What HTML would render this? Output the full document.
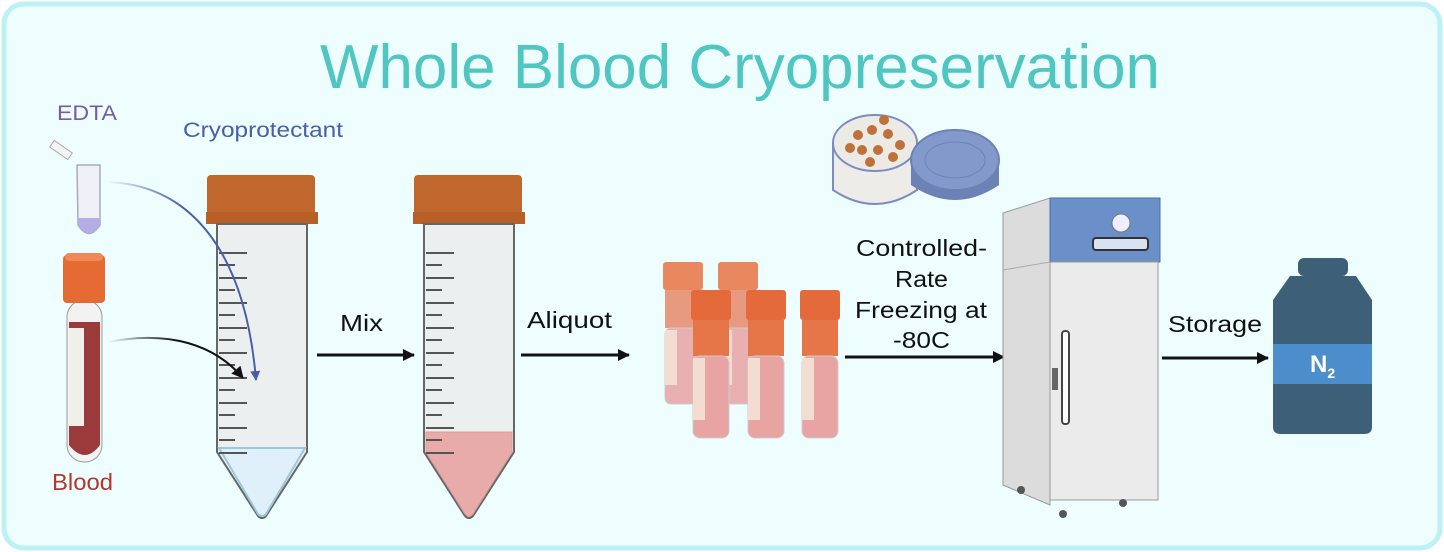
<!DOCTYPE html>
<html><head><meta charset="utf-8"><style>
html,body{margin:0;padding:0;background:#fff;}
svg{display:block;font-family:"Liberation Sans",sans-serif;}
</style></head><body>
<svg width="1444" height="552" viewBox="0 0 1444 552" xmlns="http://www.w3.org/2000/svg">
<defs>
<marker id="ah" markerWidth="12" markerHeight="12" refX="11" refY="6" orient="auto" markerUnits="userSpaceOnUse"><path d="M0,0 L12,6 L0,12 z" fill="#111"/></marker>
<marker id="ahb" markerWidth="10" markerHeight="10" refX="9" refY="5" orient="auto" markerUnits="userSpaceOnUse"><path d="M0,0 L10,5 L0,10 z" fill="#4a5ea8"/></marker>
<linearGradient id="gb" x1="0" x2="1"><stop offset="0" stop-color="#4a5ea8" stop-opacity="0"/><stop offset="0.5" stop-color="#4a5ea8"/></linearGradient>
<linearGradient id="gk" x1="0" x2="1"><stop offset="0" stop-color="#111" stop-opacity="0"/><stop offset="0.5" stop-color="#111"/></linearGradient>
</defs>
<rect x="4" y="4" width="1436" height="544" rx="20" fill="#eefefe" stroke="#bdf1f6" stroke-width="5"/>
<text x="320" y="88" font-size="62" fill="#4fc6c2" textLength="840" lengthAdjust="spacingAndGlyphs">Whole Blood Cryopreservation</text>
<text x="57" y="120" font-size="21" fill="#7a5aa6" textLength="60" lengthAdjust="spacingAndGlyphs">EDTA</text>
<text x="183" y="137" font-size="21" fill="#4a5ea8" textLength="160" lengthAdjust="spacingAndGlyphs">Cryoprotectant</text>
<text x="52" y="490" font-size="23" fill="#b03a2e" textLength="61" lengthAdjust="spacingAndGlyphs">Blood</text>

<!-- microtube -->
<rect x="50" y="146" width="22" height="8" transform="rotate(35 61 150)" fill="#f4f4f4" stroke="#aaa"/>
<path d="M77,165 L100,165 L100,225 Q89,242 78,225 Z" fill="#eef0f6" stroke="#aab" stroke-width="1.5"/>
<path d="M78,218 L100,218 L100,225 Q89,242 78,225 Z" fill="#b5aee6"/>
<!-- blood tube -->
<rect x="67" y="300" width="35" height="162" rx="17" fill="#f2f2f2" stroke="#999"/>
<path d="M69,322 L100,322 L100,445 Q85,465 69,445 Z" fill="#9a3a3a"/>
<rect x="69" y="328" width="15" height="98" fill="#f1efea"/>
<rect x="63" y="255" width="42" height="48" rx="4" fill="#e66a33"/>
<rect x="65" y="253" width="38" height="8" rx="4" fill="#f08a55"/>

<!-- falcon tube 1 -->
<g>
<rect x="207" y="175" width="108" height="40" rx="4" fill="#c0672e"/>
<rect x="206" y="212" width="112" height="12" fill="#b85f28"/>
<path d="M217,224 L307,224 L307,452 L266,516 Q262,520 258,516 L217,452 Z" fill="#ecefef" stroke="#666" stroke-width="2"/>
<path d="M219,448 L305,448 L266,514 Q262,518 258,514 Z" fill="#e0f0fb" stroke="#9cc8dd" stroke-width="2"/>
<g stroke="#555" stroke-width="2">
<line x1="219" y1="253" x2="247" y2="253"/><line x1="219" y1="265" x2="235" y2="265"/><line x1="219" y1="278" x2="247" y2="278"/><line x1="219" y1="290" x2="235" y2="290"/><line x1="219" y1="303" x2="247" y2="303"/><line x1="219" y1="315" x2="235" y2="315"/><line x1="219" y1="328" x2="247" y2="328"/><line x1="219" y1="340" x2="235" y2="340"/><line x1="219" y1="353" x2="247" y2="353"/><line x1="219" y1="365" x2="235" y2="365"/><line x1="219" y1="378" x2="247" y2="378"/><line x1="219" y1="390" x2="235" y2="390"/><line x1="219" y1="403" x2="247" y2="403"/><line x1="219" y1="415" x2="235" y2="415"/><line x1="219" y1="428" x2="247" y2="428"/><line x1="219" y1="440" x2="235" y2="440"/><line x1="219" y1="453" x2="247" y2="453"/>
</g>
</g>
<!-- falcon tube 2 -->
<g transform="translate(207,0)">
<rect x="207" y="175" width="108" height="40" rx="4" fill="#c0672e"/>
<rect x="206" y="212" width="112" height="12" fill="#b85f28"/>
<path d="M217,224 L307,224 L307,452 L266,516 Q262,520 258,516 L217,452 Z" fill="#ecefef" stroke="#666" stroke-width="2"/>
<path d="M219,432 L305,432 L305,452 L266,514 Q262,518 258,514 L219,452 Z" fill="#e8abaa" stroke="#d99" stroke-width="1"/>
<g stroke="#555" stroke-width="2">
<line x1="219" y1="253" x2="247" y2="253"/><line x1="219" y1="265" x2="235" y2="265"/><line x1="219" y1="278" x2="247" y2="278"/><line x1="219" y1="290" x2="235" y2="290"/><line x1="219" y1="303" x2="247" y2="303"/><line x1="219" y1="315" x2="235" y2="315"/><line x1="219" y1="328" x2="247" y2="328"/><line x1="219" y1="340" x2="235" y2="340"/><line x1="219" y1="353" x2="247" y2="353"/><line x1="219" y1="365" x2="235" y2="365"/><line x1="219" y1="378" x2="247" y2="378"/><line x1="219" y1="390" x2="235" y2="390"/><line x1="219" y1="403" x2="247" y2="403"/><line x1="219" y1="415" x2="235" y2="415"/><line x1="219" y1="428" x2="247" y2="428"/><line x1="219" y1="440" x2="235" y2="440"/><line x1="219" y1="453" x2="247" y2="453"/>
</g>
</g>

<!-- curved arrows -->
<path d="M108,182 C190,185 245,250 256,380" fill="none" stroke="url(#gb)" stroke-width="2" marker-end="url(#ahb)"/>
<path d="M108,342 C170,330 215,345 243,378" fill="none" stroke="url(#gk)" stroke-width="2" marker-end="url(#ah)"/>

<!-- arrows -->
<g stroke="#111" stroke-width="3" marker-end="url(#ah)">
<line x1="317" y1="355" x2="414" y2="355"/>
<line x1="521" y1="355" x2="629" y2="355"/>
<line x1="845" y1="357" x2="1004" y2="357"/>
<line x1="1162" y1="358" x2="1268" y2="358"/>
</g>
<g font-size="23" fill="#111">
<text x="340" y="331" textLength="43" lengthAdjust="spacingAndGlyphs">Mix</text>
<text x="527" y="328" textLength="85" lengthAdjust="spacingAndGlyphs">Aliquot</text>
<text x="1168" y="332" textLength="94" lengthAdjust="spacingAndGlyphs">Storage</text>
<text x="856" y="256" textLength="131" lengthAdjust="spacingAndGlyphs">Controlled-</text>
<text x="895" y="287" textLength="53" lengthAdjust="spacingAndGlyphs">Rate</text>
<text x="855" y="318" textLength="132" lengthAdjust="spacingAndGlyphs">Freezing at</text>
<text x="893" y="348" textLength="57" lengthAdjust="spacingAndGlyphs">-80C</text>
</g>

<!-- vials -->
<g id="vb">
<rect x="663" y="262" width="40" height="28" rx="3" fill="#e9875e"/>
<rect x="665" y="290" width="36" height="38" fill="#e89a80"/>
<rect x="665" y="328" width="36" height="76" rx="6" fill="#e8b0b0" stroke="#ccc"/>
<rect x="665" y="330" width="12" height="55" fill="#f3ddd3"/>
</g>
<use href="#vb" transform="translate(55,0)"/>
<g id="vf">
<rect x="691" y="290" width="40" height="30" rx="3" fill="#e46a3c"/>
<rect x="693" y="320" width="36" height="36" fill="#e67548"/>
<rect x="693" y="356" width="36" height="82" rx="7" fill="#e8a4a3" stroke="#ccc"/>
<rect x="693" y="358" width="12" height="62" fill="#f3ddd3"/>
</g>
<use href="#vf" transform="translate(55,0)"/>
<use href="#vf" transform="translate(109,0)"/>

<!-- container -->
<path d="M833,143 L833,190 Q875,218 917,190 L917,143 Z" fill="#edece8" stroke="#7c8cbf" stroke-width="2"/>
<ellipse cx="875" cy="143" rx="42" ry="28" fill="#eceae4" stroke="#7c8cbf" stroke-width="2"/>
<g fill="#c0703a"><circle cx="858" cy="135" r="5"/><circle cx="872" cy="130" r="5"/><circle cx="888" cy="134" r="5"/><circle cx="900" cy="145" r="5"/><circle cx="862" cy="150" r="5"/><circle cx="878" cy="150" r="5"/><circle cx="893" cy="157" r="5"/><circle cx="850" cy="148" r="5"/><circle cx="870" cy="162" r="5"/><circle cx="884" cy="120" r="5"/></g>
<path d="M911,158 L911,185 Q955,215 999,185 L999,158 Z" fill="#6c82b6"/>
<ellipse cx="955" cy="160" rx="44" ry="30" fill="#8399cc" stroke="#6c82b6" stroke-width="2"/>
<ellipse cx="955" cy="160" rx="30" ry="18" fill="none" stroke="#6c82b6"/>

<!-- freezer -->
<path d="M1003,213 L1050,198 L1050,505 L1003,485 Z" fill="#dcdcdc" stroke="#999"/>
<path d="M1003,270 L1050,262" stroke="#aaa"/>
<rect x="1050" y="198" width="110" height="64" fill="#6b8fc8" stroke="#4e6fa5"/>
<circle cx="1121" cy="223" r="9" fill="#eef" stroke="#777"/>
<rect x="1093" y="238" width="55" height="12" rx="3" fill="#d8e2f0" stroke="#333" stroke-width="2"/>
<rect x="1050" y="262" width="108" height="238" fill="#ebebeb" stroke="#999"/>
<rect x="1062" y="331" width="7" height="93" rx="3" fill="#fff" stroke="#444" stroke-width="2"/>
<rect x="1052" y="368" width="6" height="22" fill="#666"/>
<circle cx="1021" cy="490" r="4" fill="#555"/><circle cx="1063" cy="514" r="4" fill="#555"/><circle cx="1123" cy="503" r="4" fill="#555"/>

<!-- dewar -->
<rect x="1298" y="258" width="50" height="18" rx="6" fill="#3d5f78"/>
<path d="M1290,276 L1356,276 L1372,300 L1372,427 Q1372,434 1364,434 L1281,434 Q1273,434 1273,427 L1273,300 Z" fill="#3d5f78"/>
<rect x="1273" y="344" width="99" height="40" fill="#4b8ecb"/>
<text x="1310" y="372" font-size="24" font-weight="bold" fill="#fff">N<tspan font-size="14" dy="6">2</tspan></text>
</svg>
</body></html>
